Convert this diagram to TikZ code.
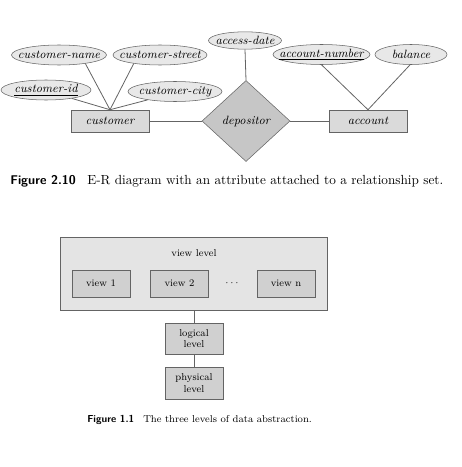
\documentclass[tikz,border=0pt]{standalone}
\usepackage{tikz}
\usetikzlibrary{shapes.geometric}

\definecolor{edgegray}{RGB}{100,100,100}
\definecolor{attrfill}{RGB}{232,232,232}
\definecolor{entfill}{RGB}{218,218,218}
\definecolor{relfill}{RGB}{198,198,198}
\definecolor{levelfill}{RGB}{228,228,228}
\definecolor{viewfill}{RGB}{208,208,208}

% label of zero width, so the ellipse keeps its given size
\newcommand{\elabel}[1]{\makebox[0pt]{#1}}

\tikzset{
  erfont/.style={font=\fontsize{9}{11}\selectfont\itshape},
  attr/.style={ellipse, draw=edgegray, fill=attrfill, inner sep=0pt, minimum height=15pt, erfont},
  entity/.style={rectangle, draw=edgegray, fill=entfill, inner sep=0pt, minimum width=58.5pt, minimum height=16.5pt, erfont},
  relation/.style={diamond, draw=edgegray, fill=relfill, inner sep=0pt, minimum width=66pt, minimum height=60.75pt, erfont},
  link/.style={draw=edgegray, line width=0.6pt},
  levelbox/.style={rectangle, draw=edgegray, fill=viewfill, inner sep=0pt, minimum width=43.5pt, align=center, font=\fontsize{7.5}{8.75}\selectfont},
  figlabel/.style={anchor=base west, inner sep=0pt, font=\sffamily\bfseries},
  figtext/.style={anchor=base west, inner sep=0pt}
}

\begin{document}
\begin{tikzpicture}[x=0.75pt,y=0.75pt,yscale=-1,xscale=1]
\useasboundingbox (0,0) rectangle (461,467);

%Shape: Ellipse
\node [attr, minimum width=71.25pt] (cname) at (59,55) {\elabel{customer-name}};
%Shape: Ellipse
\node [attr, minimum width=70.5pt] (cstreet) at (160,55) {\elabel{customer-street}};
%Shape: Ellipse
\node [attr, minimum width=67.5pt] (cid) at (46,90) {\elabel{\underline{customer-id}}};
%Shape: Ellipse
\node [attr, minimum width=70.5pt] (ccity) at (175,91.5) {\elabel{customer-city}};
%Shape: Ellipse
\node [attr, minimum width=54.75pt, minimum height=13pt] (adate) at (245,40.5) {\elabel{access-date}};
%Shape: Ellipse
\node [attr, minimum width=72.75pt] (anumber) at (321.5,54.5) {\elabel{\underline{account-number}}};
%Shape: Ellipse
\node [attr, minimum width=54pt] (balance) at (411,54.5) {\elabel{balance}};

%Shape: Rectangle
\node [entity] (customer) at (110,121) {customer};
%Shape: Rectangle
\node [entity] (account) at (368,121) {account};
%Shape: Diamond
\node [relation] (depositor) at (246,121) {depositor};

%Straight Lines
\draw [link] (cname.-18) -- (customer.north) ;
\draw [link] (cstreet.-162) -- (customer.north) ;
\draw [link] (cid.-18) -- (customer.north) ;
\draw [link] (ccity.-163) -- (customer.north) ;
\draw [link] (anumber.south) -- (account.north) ;
\draw [link] (balance.-95) -- (account.north) ;
\draw [link] (adate.south) -- (depositor.north) ;
\draw [link] (customer.east) -- (depositor.west) ;
\draw [link] (depositor.east) -- (account.west) ;

% Text Node
\node [figlabel, font=\fontsize{9.5}{11}\selectfont\sffamily\bfseries] (figa) at (10,184) {Figure 2.10};
% Text Node
\node [figtext, font=\fontsize{9.9}{12}\selectfont] (capa) at (87,184) {E-R diagram with an attribute attached to a relationship set.};

%Shape: Rectangle
\node [rectangle, draw=edgegray, fill=levelfill, minimum width=200.25pt, minimum height=54.75pt] (vlevel) at (194,273.5) {};
% Text Node
\node [font=\fontsize{7.5}{8.75}\selectfont, inner sep=0pt] (vtitle) at (194,253) {view level};
%Shape: Rectangle
\node [levelbox, minimum height=20.25pt] (view1) at (101,283.5) {view 1};
%Shape: Rectangle
\node [levelbox, minimum height=20.25pt] (view2) at (179.5,283.5) {view 2};
% Text Node
\node [inner sep=0pt, font=\fontsize{7.5}{8.75}\selectfont] (vdots) at (232,283.5) {$\cdots$};
%Shape: Rectangle
\node [levelbox, minimum height=20.25pt] (viewn) at (286,283.5) {view n};
%Shape: Rectangle
\node [levelbox, minimum height=23.25pt] (logical) at (194,338.5) {logical\\level};
%Shape: Rectangle
\node [levelbox, minimum height=24pt] (physical) at (194,383) {physical\\level};

%Straight Lines
\draw [link] (vlevel.south) -- (logical.north) ;
\draw [link] (logical.south) -- (physical.north) ;

% Text Node
\node [figlabel, font=\fontsize{7.6}{9}\selectfont\sffamily\bfseries] (figb) at (87,422) {Figure 1.1};
% Text Node
\node [figtext, font=\fontsize{7.5}{9}\selectfont] (capb) at (143,422) {The three levels of data abstraction.};

\end{tikzpicture}
\end{document}
